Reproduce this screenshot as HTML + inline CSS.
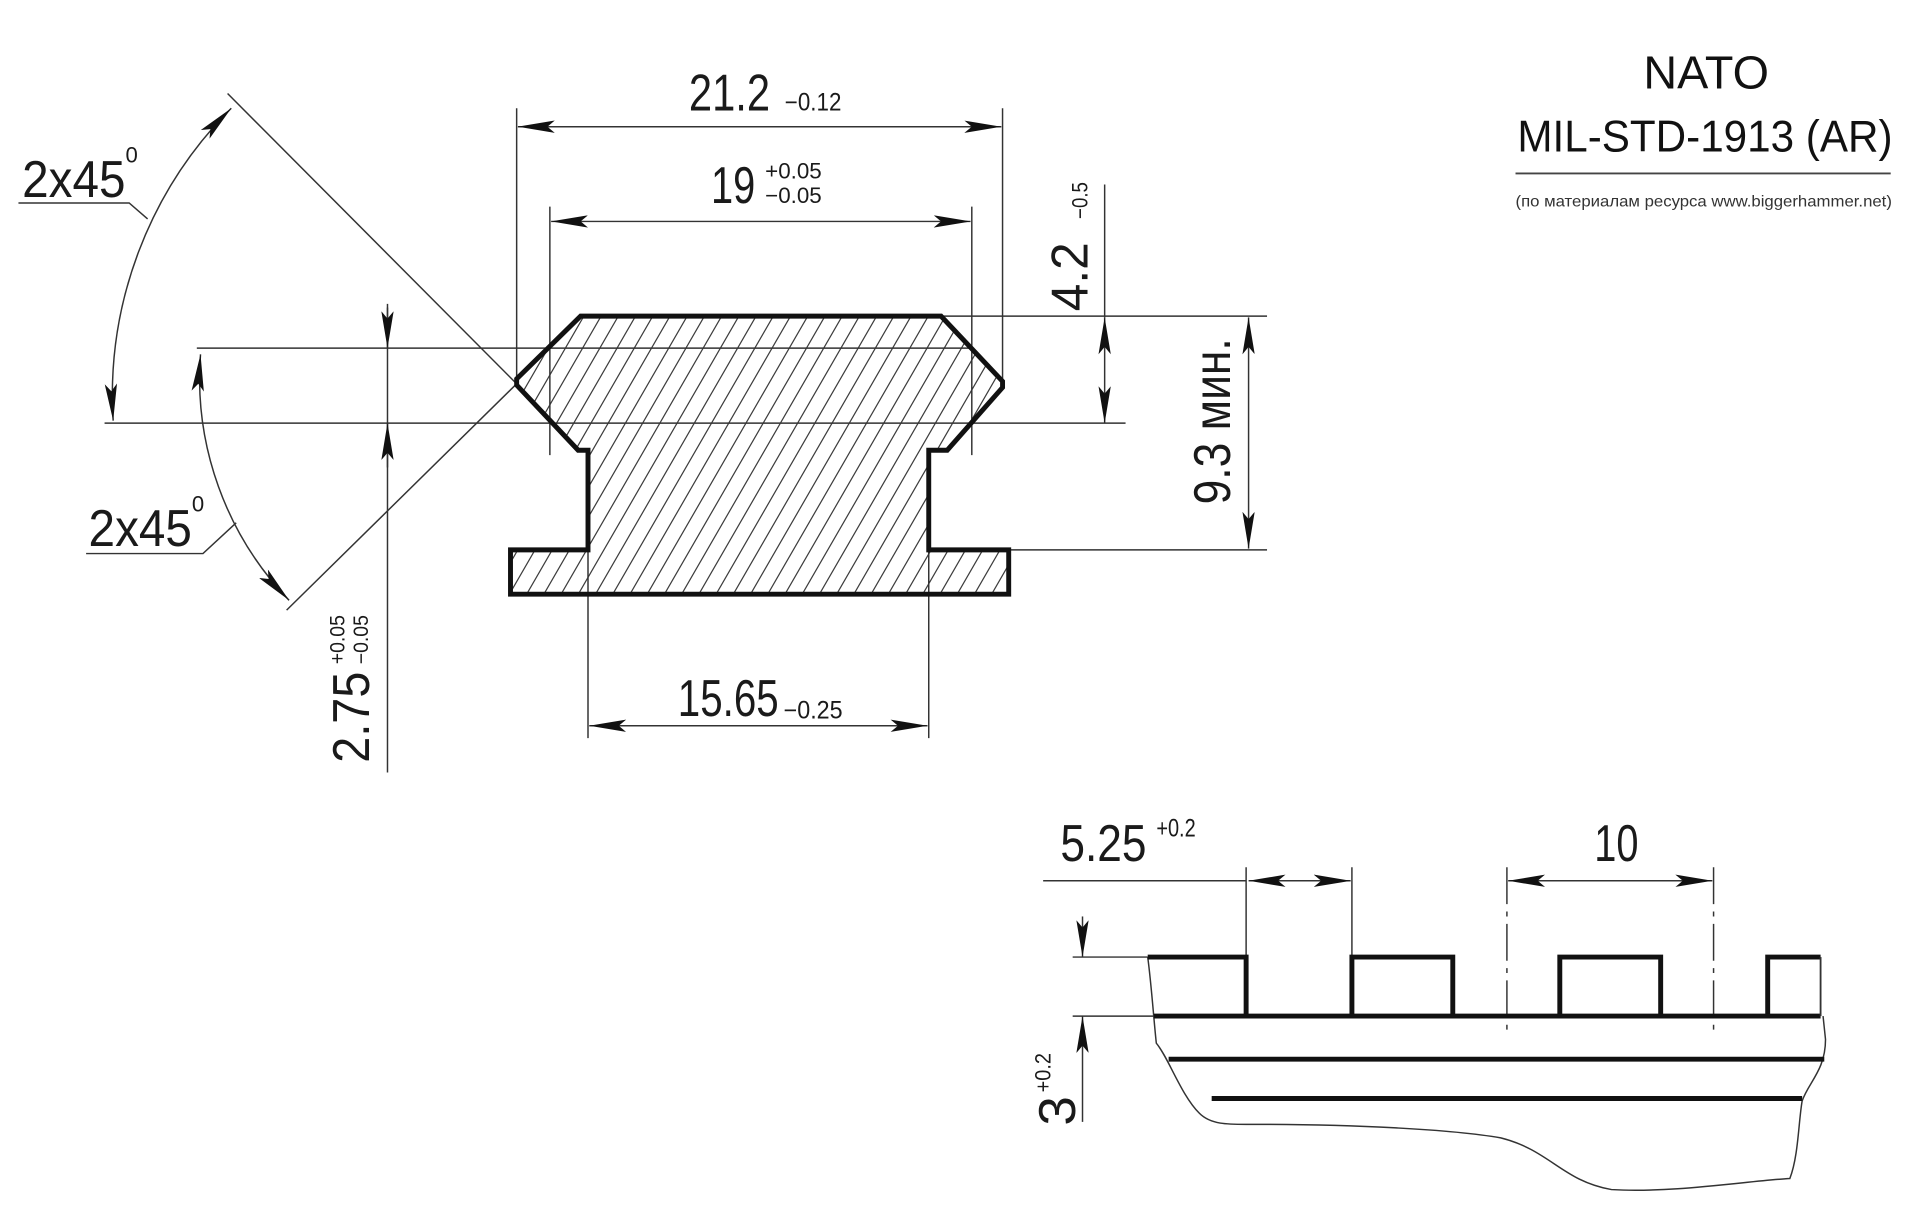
<!DOCTYPE html>
<html><head><meta charset="utf-8"><style>
html,body{margin:0;padding:0;background:#fff;}
svg{display:block;}
.t{font-family:"Liberation Sans Narrow","Liberation Sans",sans-serif;fill:#1a1a1a;}
</style></head><body>
<svg width="1919" height="1216" viewBox="0 0 1560 988.5" preserveAspectRatio="none" xmlns="http://www.w3.org/2000/svg">
<defs>
<marker id="a" viewBox="0 0 30 10" refX="30" refY="5" markerWidth="30" markerHeight="10" markerUnits="userSpaceOnUse" orient="auto-start-reverse">
<path d="M0,0 L30,5 L0,10 L6,5 Z" fill="#111"/></marker>
<pattern id="h" patternUnits="userSpaceOnUse" width="14" height="24" patternTransform="skewX(-30)">
<line x1="7" y1="0" x2="7" y2="24" stroke="#333" stroke-width="1.1"/></pattern>
<clipPath id="c"><path d="M472,257 L765,257 L815,310 L815,315 L770,366 L755,366 L755,447 L820,447 L820,483 L415,483 L415,447 L478,447 L478,366 L470,366 L420,313 L420,308 Z"/></clipPath>
</defs>
<g stroke="#333" stroke-width="1.2" fill="none">
<rect x="400" y="250" width="430" height="240" fill="url(#h)" stroke="none" clip-path="url(#c)"/>
<line x1="420" y1="88" x2="420" y2="312"/><line x1="815" y1="88" x2="815" y2="312"/>
<line x1="421" y1="103" x2="814" y2="103" marker-start="url(#a)" marker-end="url(#a)"/>
<line x1="447" y1="168" x2="447" y2="370"/><line x1="790" y1="168" x2="790" y2="370"/>
<line x1="448" y1="180" x2="789" y2="180" marker-start="url(#a)" marker-end="url(#a)"/>
<line x1="160" y1="283" x2="790" y2="283"/>
<line x1="85" y1="344" x2="915" y2="344"/>
<line x1="185" y1="76" x2="420" y2="312"/>
<line x1="233" y1="496" x2="420" y2="312"/>
<path d="M188,88 A330,330 0 0 0 92,342" marker-start="url(#a)" marker-end="url(#a)"/>
<path d="M163,288 A260,260 0 0 0 235,488" marker-start="url(#a)" marker-end="url(#a)"/>
<polyline points="15,165 105,165 120,178"/>
<polyline points="70,450 165,450 192,425"/>
<line x1="315" y1="247" x2="315" y2="628"/>
<line x1="315" y1="250" x2="315" y2="283" marker-end="url(#a)"/>
<line x1="315" y1="380" x2="315" y2="344" marker-end="url(#a)"/>
<line x1="765" y1="257" x2="1030" y2="257"/>
<line x1="898" y1="150" x2="898" y2="258"/>
<line x1="898" y1="258" x2="898" y2="344" marker-start="url(#a)" marker-end="url(#a)"/>
<line x1="820" y1="447" x2="1030" y2="447"/>
<line x1="1015" y1="258" x2="1015" y2="446" marker-start="url(#a)" marker-end="url(#a)"/>
<line x1="478" y1="447" x2="478" y2="600"/><line x1="755" y1="447" x2="755" y2="600"/>
<line x1="479" y1="590" x2="754" y2="590" marker-start="url(#a)" marker-end="url(#a)"/>
<line x1="1232" y1="141" x2="1537" y2="141" stroke="#444" stroke-width="1.5"/>
<line x1="848" y1="716" x2="1013" y2="716"/>
<line x1="1013" y1="705" x2="1013" y2="826"/><line x1="1099" y1="705" x2="1099" y2="826"/>
<line x1="1015" y1="716" x2="1098" y2="716" marker-start="url(#a)" marker-end="url(#a)"/>
<line x1="1225" y1="705" x2="1225" y2="842" stroke-dasharray="30,6,4,6"/>
<line x1="1393" y1="705" x2="1393" y2="842" stroke-dasharray="30,6,4,6"/>
<line x1="1226" y1="716" x2="1392" y2="716" marker-start="url(#a)" marker-end="url(#a)"/>
<line x1="872" y1="778" x2="933" y2="778"/><line x1="872" y1="826" x2="938" y2="826"/>
<line x1="880" y1="745" x2="880" y2="778" marker-end="url(#a)"/>
<line x1="880" y1="912" x2="880" y2="826" marker-end="url(#a)"/>
<path d="M933,778 C936,800 938,830 940,848 C950,860 960,890 975,905 C985,915 1000,914 1020,914 C1100,914 1180,918 1220,925 C1260,935 1270,960 1310,967 C1360,970 1420,960 1455,958 C1462,940 1462,912 1465,895 C1470,880 1484,870 1484,845 L1482,826"/>
</g>
<g fill="none" stroke="#111" stroke-width="4" stroke-linejoin="miter">
<path d="M472,257 L765,257 L815,310 L815,315 L770,366 L755,366 L755,447 L820,447 L820,483 L415,483 L415,447 L478,447 L478,366 L470,366 L420,313 L420,308 Z"/>
<polyline points="933,778 1013,778 1013,826"/>
<polyline points="1099,826 1099,778 1181,778 1181,826"/>
<polyline points="1268,826 1268,778 1350,778 1350,826"/>
<polyline points="1437,826 1437,778 1480,778"/>
<line x1="938" y1="826" x2="1480" y2="826"/>
<line x1="950" y1="861" x2="1483" y2="861"/>
<line x1="985" y1="893" x2="1465" y2="893"/>
</g>
<line x1="1480" y1="778" x2="1480" y2="826" stroke="#333" stroke-width="1.5"/>
<g class="t">
<text x="560" y="90" font-size="42" textLength="66" lengthAdjust="spacingAndGlyphs">21.2</text>
<text x="638" y="90" font-size="20" textLength="46" lengthAdjust="spacingAndGlyphs">−0.12</text>
<text x="578" y="165" font-size="42" textLength="36" lengthAdjust="spacingAndGlyphs">19</text>
<text x="622" y="145" font-size="18" textLength="46" lengthAdjust="spacingAndGlyphs">+0.05</text>
<text x="622" y="165" font-size="18" textLength="46" lengthAdjust="spacingAndGlyphs">−0.05</text>
<text x="18" y="160" font-size="42" textLength="84" lengthAdjust="spacingAndGlyphs">2x45</text>
<text x="102" y="132" font-size="18">0</text>
<text x="72" y="444" font-size="42" textLength="84" lengthAdjust="spacingAndGlyphs">2x45</text>
<text x="156" y="416" font-size="18">0</text>
<text x="551" y="582" font-size="42" textLength="82" lengthAdjust="spacingAndGlyphs">15.65</text>
<text x="637" y="584" font-size="20" textLength="48" lengthAdjust="spacingAndGlyphs">−0.25</text>
<text transform="translate(300,620) rotate(-90)" font-size="42" textLength="74" lengthAdjust="spacingAndGlyphs">2.75</text>
<text transform="translate(280,540) rotate(-90)" font-size="17" textLength="40" lengthAdjust="spacingAndGlyphs">+0.05</text>
<text transform="translate(299,540) rotate(-90)" font-size="17" textLength="40" lengthAdjust="spacingAndGlyphs">−0.05</text>
<text transform="translate(884,253) rotate(-90)" font-size="42" textLength="56" lengthAdjust="spacingAndGlyphs">4.2</text>
<text transform="translate(884,178) rotate(-90)" font-size="18" textLength="30" lengthAdjust="spacingAndGlyphs">−0.5</text>
<text transform="translate(1000,410) rotate(-90)" font-size="42" textLength="135" lengthAdjust="spacingAndGlyphs">9.3 мин.</text>
<text x="862" y="700" font-size="42" textLength="70" lengthAdjust="spacingAndGlyphs">5.25</text>
<text x="940" y="680" font-size="20" textLength="32" lengthAdjust="spacingAndGlyphs">+0.2</text>
<text x="1296" y="700" font-size="42" textLength="36" lengthAdjust="spacingAndGlyphs">10</text>
<text transform="translate(874,915) rotate(-90)" font-size="42" textLength="24" lengthAdjust="spacingAndGlyphs">3</text>
<text transform="translate(854,888) rotate(-90)" font-size="18" textLength="32" lengthAdjust="spacingAndGlyphs">+0.2</text>
</g>
<g font-family="Liberation Sans, sans-serif" fill="#111" text-anchor="middle">
<text x="1387" y="72" font-size="38">NATO</text>
<text x="1386" y="123" font-size="36" textLength="305" lengthAdjust="spacingAndGlyphs">MIL-STD-1913 (AR)</text>
<text x="1385" y="168" font-size="13" textLength="306" lengthAdjust="spacingAndGlyphs" fill="#333">(по материалам ресурса www.biggerhammer.net)</text>
</g>
</svg>
</body></html>
